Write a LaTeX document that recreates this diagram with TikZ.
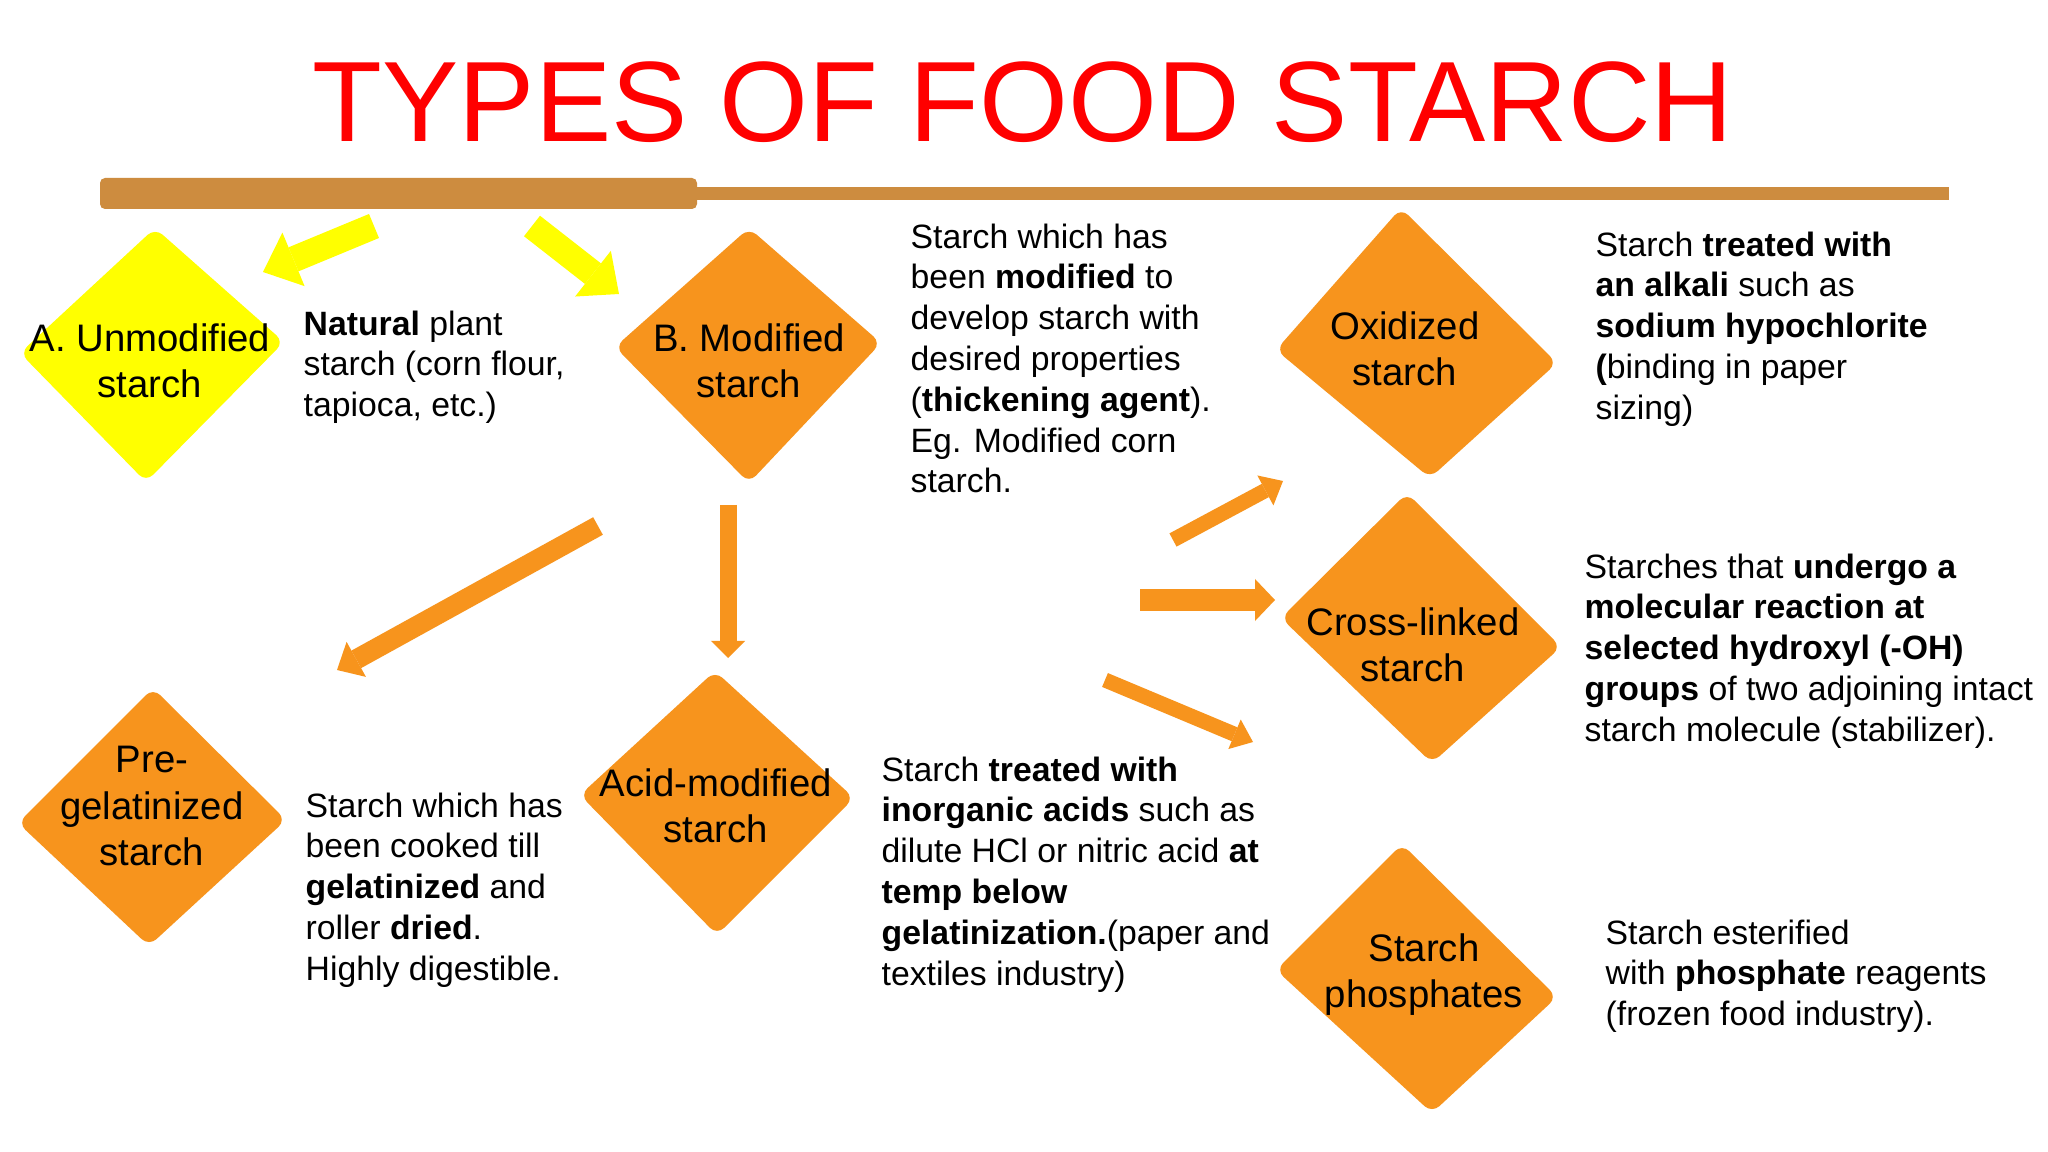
\documentclass[tikz,border=0pt]{standalone}
\usepackage{fontspec}
\setmainfont{Liberation Sans}
\usetikzlibrary{arrows.meta}

\definecolor{org}{HTML}{F7941D}
\definecolor{yel}{HTML}{FFFF00}
\definecolor{bar}{HTML}{CD8C3F}
\definecolor{ttl}{HTML}{FF0000}

\begin{document}
\begin{tikzpicture}
            [x=0.01cm,y=-0.01cm,every node/.style={inner sep=0,text=black},
            gemtext/.style={align=center,font=\fontsize{10.9pt}{13.1pt}\selectfont},
            desc/.style={anchor=north west,align=left,font=\fontsize{9.6pt}{11.6pt}\selectfont},
            yarrow/.style={draw=yel,line width=0.26cm,-{Triangle[line width=0pt,length=0.33cm,width=0.58cm]}},
            oarrow/.style={draw=org,line width=0.19cm,-{Triangle[line width=0pt,length=0.22cm,width=0.40cm]}}]

            \useasboundingbox[fill=white] (0,0) rectangle (2048,1152);

            \node[text=ttl,font=\fontsize{32.5pt}{32.5pt}\selectfont] (title) at (1023,102) {TYPES OF FOOD STARCH};
            \fill[bar,rounded corners=0.05cm] (100,178) rectangle (697,209);
            \fill[bar] (697,187) rectangle (1949,200);

            \fill[yel,rounded corners=0.1cm] (155,228) -- (284,342) -- (146,482) -- (20,353) -- cycle;
            \fill[org,rounded corners=0.1cm] (749,228) -- (881,343) -- (749,483) -- (615,347) -- cycle;
            \fill[org,rounded corners=0.1cm] (1401,208) -- (1557,363) -- (1430,478) -- (1276,350) -- cycle;
            \fill[org,rounded corners=0.1cm] (1407,493) -- (1561,647) -- (1432,763) -- (1281,618) -- cycle;
            \fill[org,rounded corners=0.1cm] (1402,844) -- (1557,997) -- (1432,1113) -- (1276,970) -- cycle;
            \fill[org,rounded corners=0.1cm] (153,688) -- (286,820) -- (149,946) -- (18,823) -- cycle;
            \fill[org,rounded corners=0.1cm] (715,671) -- (854,798) -- (717,935) -- (580,795) -- cycle;

            \node[gemtext] (unmod) at (150,361) {A. Unmodified\\starch};
            \node[gemtext] (mod) at (749,361) {B. Modified\\starch};
            \node[gemtext] (oxid) at (1405,349) {Oxidized\\starch};
            \node[gemtext] (cross) at (1413,645) {Cross-linked\\starch};
            \node[gemtext] (phos) at (1424,975) {Starch\\phosphates};
            \node[gemtext] (pregel) at (152,806) {Pre-\\gelatinized\\starch};
            \node[gemtext] (acid) at (716,806) {Acid-modified\\starch};

            \node[desc] (unmoddesc) at (303,310) {\textbf{Natural} plant\\starch (corn flour,\\tapioca, etc.)};
            \node[desc] (moddesc) at (910,223) {Starch which has\\been \textbf{modified} to\\develop starch with\\desired properties\\(\textbf{thickening agent}).\\Eg. Modified corn\\starch.};
            \node[desc] (oxiddesc) at (1595,231) {Starch \textbf{treated with}\\\textbf{an alkali} such as\\\textbf{sodium hypochlorite}\\\textbf{(}binding in paper\\sizing)};
            \node[desc] (crossdesc) at (1584,553) {Starches that \textbf{undergo a}\\\textbf{molecular reaction at}\\\textbf{selected hydroxyl (-OH)}\\\textbf{groups} of two adjoining intact\\starch molecule (stabilizer).};
            \node[desc] (phosdesc) at (1605,919) {Starch esterified\\with \textbf{phosphate} reagents\\(frozen food industry).};
            \node[desc] (pregeldesc) at (305,792) {Starch which has\\been cooked till\\\textbf{gelatinized} and\\roller \textbf{dried}.\\Highly digestible.};
            \node[desc] (aciddesc) at (881,756) {Starch \textbf{treated with}\\\textbf{inorganic acids} such as\\dilute HCl or nitric acid \textbf{at}\\\textbf{temp below}\\\textbf{gelatinization.}(paper and\\textiles industry)};

            \coordinate (y1s) at (374,226);
            \coordinate (y1e) at (263,272);
            \coordinate (y2s) at (532,226);
            \coordinate (y2e) at (619,294);
            \coordinate (o1s) at (598,526);
            \coordinate (o1e) at (337,670);
            \coordinate (o2s) at (728,505);
            \coordinate (o2e) at (728,658);
            \coordinate (o3s) at (1173,540);
            \coordinate (o3e) at (1283,481);
            \coordinate (o4s) at (1140,600);
            \coordinate (o4e) at (1275,600);
            \coordinate (o5s) at (1105,680);
            \coordinate (o5e) at (1253,742);

            \draw[yarrow] (y1s) -- (y1e);
            \draw[yarrow] (y2s) -- (y2e);
            \draw[oarrow,line width=0.2cm] (o1s) -- (o1e);
            \draw[oarrow,line width=0.17cm,-{Triangle[line width=0pt,length=0.17cm,width=0.34cm]}] (o2s) -- (o2e);
            \draw[oarrow,line width=0.15cm,-{Triangle[line width=0pt,length=0.2cm,width=0.34cm]}] (o3s) -- (o3e);
            \draw[oarrow,line width=0.21cm,-{Triangle[line width=0pt,length=0.2cm,width=0.42cm]}] (o4s) -- (o4e);
            \draw[oarrow,line width=0.15cm,-{Triangle[line width=0pt,length=0.2cm,width=0.32cm]}] (o5s) -- (o5e);
          \end{tikzpicture}
\end{document}
